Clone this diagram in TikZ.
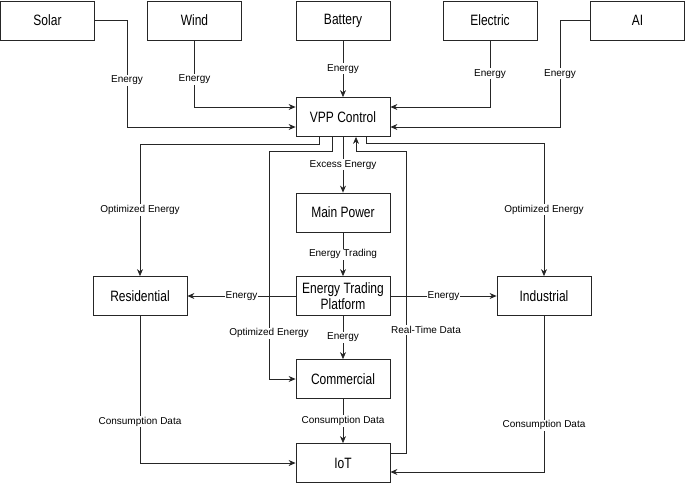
\documentclass[tikz,border=0pt]{standalone}
\usepackage{fontspec}
\setmainfont{Liberation Sans}
\newfontfamily\boxfont[FakeStretch=0.8]{Liberation Sans}
\usetikzlibrary{arrows.meta}
\begin{document}
\begin{tikzpicture}[
    box/.style={draw=black!85, line width=.8pt, minimum width=94pt, minimum height=39pt, align=center, font=\boxfont\fontsize{15}{16}\selectfont},
    arr/.style={draw=black!85, line width=.8pt, -{Stealth[length=7pt,width=6pt]}},
    lbl/.style={fill=white, inner sep=1pt, font=\fontsize{10}{12}\selectfont}
]
    \begin{scope}[x=1pt, y=-1pt]
        \useasboundingbox (0,0) rectangle (685,483);
        
        %Quellen oben
        \node[box] (solar)    at (47.5,20.5) {Solar};
        \node[box] (wind)     at (194.5,20.5) {Wind};
        \node[box] (battery)  at (343,20.5) {Battery};
        \node[box] (electric) at (490,20.5) {Electric};
        \node[box] (ai)       at (637.5,20.5) {AI};
        
        %Mitte
        \node[box] (vpp)  at (343,117) {VPP Control};
        \node[box] (main) at (343,212.5) {Main Power};
        \node[box] (etp)  at (343,296) {Energy Trading\\Platform};
        \node[box] (com)  at (343,379) {Commercial};
        \node[box] (iot)  at (343,463) {IoT};
        
        %Verbraucher
        \node[box] (res) at (140,296) {Residential};
        \node[box] (ind) at (544,296) {Industrial};
        
        %Knickpunkte
        \coordinate (s1) at (127,20.5);
        \coordinate (a1) at (560,20.5);
        \coordinate (r1) at (140,144);
        \coordinate (c1) at (269,151);
        \coordinate (i1) at (544,143);
        \coordinate (t1) at (406,151);
        
        %Energie zur VPP
        \draw[arr] (solar.east) -- (s1) |- node[lbl, pos=.28] {Energy} ([yshift=-10pt]vpp.west);
        \draw[arr] (wind.south) |- node[lbl, pos=.29] {Energy} ([yshift=10pt]vpp.west);
        \draw[arr] (battery) -- node[lbl] {Energy} (vpp);
        \draw[arr] (electric.south) |- node[lbl, pos=.25] {Energy} ([yshift=10pt]vpp.east);
        \draw[arr] (ai.west) -- (a1) |- node[lbl, pos=.25] {Energy} ([yshift=-10pt]vpp.east);
        
        %Verteilung
        \draw[arr] ([xshift=-24pt]vpp.south) |- (r1) -- node[lbl] {Optimized Energy} (res.north);
        \draw[arr] ([xshift=-11pt]vpp.south) |- (c1) |- node[lbl, pos=.4] {Optimized Energy} (com.west);
        \draw[arr] ([xshift=23pt]vpp.south) |- (i1) -- node[lbl] {Optimized Energy} (ind.north);
        \draw[arr] (vpp) -- node[lbl] {Excess Energy} (main);
        \draw[arr] (main) -- node[lbl] {Energy Trading} (etp);
        \draw[arr] (etp.west) -- node[lbl] {Energy} (res.east);
        \draw[arr] (etp.east) -- node[lbl] {Energy} (ind.west);
        \draw[arr] (etp) -- node[lbl] {Energy} (com);
        
        %Daten
        \draw[arr] (com) -- node[lbl] {Consumption Data} (iot);
        \draw[arr] (res.south) |- node[lbl, pos=.36] {Consumption Data} (iot.west);
        \draw[arr] (ind.south) |- node[lbl, pos=.35] {Consumption Data} ([yshift=-9pt]iot.east);
        \draw[arr] ([yshift=10pt]iot.east) -| (t1) -| ([xshift=13pt]vpp.south);
        \node[lbl] (rtd) at (426,330) {Real-Time Data};
    \end{scope}
\end{tikzpicture}
\end{document}
